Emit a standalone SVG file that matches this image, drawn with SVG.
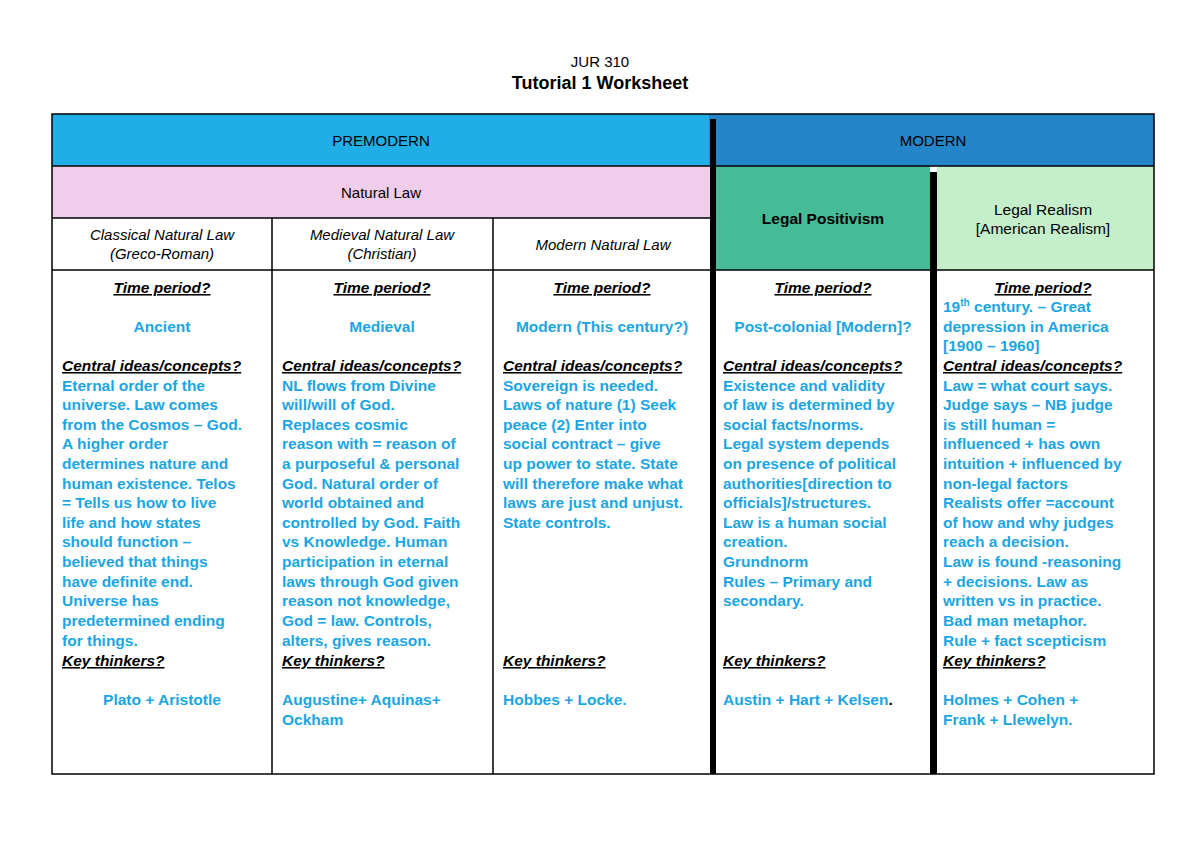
<svg xmlns="http://www.w3.org/2000/svg" width="1200" height="849" viewBox="0 0 1200 849">
<style>
text{font-family:"Liberation Sans",Arial,sans-serif;}
.h{font-size:15px;fill:#000}
.sub{font-size:15px;font-style:italic;fill:#000;text-anchor:middle}
.q{font-size:15.5px;font-weight:bold;font-style:italic;text-decoration:underline;fill:#000}
.b{font-size:15.5px;font-weight:bold;fill:#1ba6e3}
.c{text-anchor:middle}
.ln{stroke:#000;stroke-width:1.5;fill:none}
</style>
<rect width="1200" height="849" fill="#fff"/>
<text x="600" y="67" class="h c" font-size="15">JUR 310</text>
<text x="600" y="89" class="c" font-size="18" font-weight="bold">Tutorial 1 Worksheet</text>
<g id="headers">
<rect x="52" y="114" width="657" height="52" fill="#1faee6"/>
<rect x="709" y="114" width="445" height="52" fill="#2485c9"/>
<rect x="52" y="166" width="658" height="52" fill="#f0cdea"/>
<rect x="716" y="166" width="214" height="104" fill="#45bb97"/>
<rect x="937" y="166" width="217" height="104" fill="#c4efca"/>
<text x="381" y="146" class="h c">PREMODERN</text>
<text x="933" y="146" class="h c">MODERN</text>
<text x="381" y="198" class="h c" font-size="16">Natural Law</text>
<text x="162" y="240" class="sub">Classical Natural Law</text>
<text x="162" y="259" class="sub">(Greco-Roman)</text>
<text x="382" y="240" class="sub">Medieval Natural Law</text>
<text x="382" y="259" class="sub">(Christian)</text>
<text x="603" y="250" class="sub">Modern Natural Law</text>
<text x="823" y="224" class="c" font-size="15.5" font-weight="bold">Legal Positivism</text>
<text x="1043" y="215" class="c" font-size="15.5">Legal Realism</text>
<text x="1043" y="234" class="c" font-size="15.5">[American Realism]</text>
</g>
<g id="grid">
<rect x="52" y="114" width="1102" height="660" class="ln"/>
<line x1="52" y1="166" x2="1154" y2="166" class="ln"/>
<line x1="52" y1="218" x2="710" y2="218" class="ln"/>
<line x1="52" y1="270" x2="1154" y2="270" class="ln"/>
<line x1="272" y1="218" x2="272" y2="774" class="ln"/>
<line x1="493" y1="218" x2="493" y2="774" class="ln"/>
<rect x="710" y="119" width="6" height="655" fill="#000"/>
<rect x="930" y="172" width="7" height="602" fill="#000"/>
</g>
<g id="col1">
<text x="162" y="293" class="q c">Time period?</text>
<text x="162" y="332" class="b c">Ancient</text>
<text x="62" y="371" class="q">Central ideas/concepts?</text>
<text class="b"><tspan x="62" y="391">Eternal order of the</tspan><tspan x="62" y="410">universe. Law comes</tspan><tspan x="62" y="430">from the Cosmos – God.</tspan><tspan x="62" y="449">A higher order</tspan><tspan x="62" y="469">determines nature and</tspan><tspan x="62" y="489">human existence. Telos</tspan><tspan x="62" y="508">= Tells us how to live</tspan><tspan x="62" y="528">life and how states</tspan><tspan x="62" y="547">should function –</tspan><tspan x="62" y="567">believed that things</tspan><tspan x="62" y="587">have definite end.</tspan><tspan x="62" y="606">Universe has</tspan><tspan x="62" y="626">predetermined ending</tspan><tspan x="62" y="646">for things.</tspan></text>
<text x="62" y="666" class="q">Key thinkers?</text>
<text x="162" y="705" class="b c">Plato + Aristotle</text>
</g>
<g id="col2">
<text x="382" y="293" class="q c">Time period?</text>
<text x="382" y="332" class="b c">Medieval</text>
<text x="282" y="371" class="q">Central ideas/concepts?</text>
<text class="b"><tspan x="282" y="391">NL flows from Divine</tspan><tspan x="282" y="410">will/will of God.</tspan><tspan x="282" y="430">Replaces cosmic</tspan><tspan x="282" y="449">reason with = reason of</tspan><tspan x="282" y="469">a purposeful &amp; personal</tspan><tspan x="282" y="489">God. Natural order of</tspan><tspan x="282" y="508">world obtained and</tspan><tspan x="282" y="528">controlled by God. Faith</tspan><tspan x="282" y="547">vs Knowledge. Human</tspan><tspan x="282" y="567">participation in eternal</tspan><tspan x="282" y="587">laws through God given</tspan><tspan x="282" y="606">reason not knowledge,</tspan><tspan x="282" y="626">God = law. Controls,</tspan><tspan x="282" y="646">alters, gives reason.</tspan></text>
<text x="282" y="666" class="q">Key thinkers?</text>
<text class="b"><tspan x="282" y="705">Augustine+ Aquinas+</tspan><tspan x="282" y="725">Ockham</tspan></text>
</g>
<g id="col3">
<text x="602" y="293" class="q c">Time period?</text>
<text x="602" y="332" class="b c">Modern (This century?)</text>
<text x="503" y="371" class="q">Central ideas/concepts?</text>
<text class="b"><tspan x="503" y="391">Sovereign is needed.</tspan><tspan x="503" y="410">Laws of nature (1) Seek</tspan><tspan x="503" y="430">peace (2) Enter into</tspan><tspan x="503" y="449">social contract – give</tspan><tspan x="503" y="469">up power to state. State</tspan><tspan x="503" y="489">will therefore make what</tspan><tspan x="503" y="508">laws are just and unjust.</tspan><tspan x="503" y="528">State controls.</tspan></text>
<text x="503" y="666" class="q">Key thinkers?</text>
<text x="503" y="705" class="b">Hobbes + Locke.</text>
</g>
<g id="col4">
<text x="823" y="293" class="q c">Time period?</text>
<text x="823" y="332" class="b c">Post-colonial [Modern]?</text>
<text x="723" y="371" class="q">Central ideas/concepts?</text>
<text class="b"><tspan x="723" y="391">Existence and validity</tspan><tspan x="723" y="410">of law is determined by</tspan><tspan x="723" y="430">social facts/norms.</tspan><tspan x="723" y="449">Legal system depends</tspan><tspan x="723" y="469">on presence of political</tspan><tspan x="723" y="489">authorities[direction to</tspan><tspan x="723" y="508">officials]/structures.</tspan><tspan x="723" y="528">Law is a human social</tspan><tspan x="723" y="547">creation.</tspan><tspan x="723" y="567">Grundnorm</tspan><tspan x="723" y="587">Rules – Primary and</tspan><tspan x="723" y="606">secondary.</tspan></text>
<text x="723" y="666" class="q">Key thinkers?</text>
<text x="723" y="705" class="b">Austin + Hart + Kelsen<tspan fill="#000">.</tspan></text>
</g>
<g id="col5">
<text x="1043" y="293" class="q c">Time period?</text>
<text class="b"><tspan x="943" y="312">19<tspan font-size="10" dy="-6">th</tspan><tspan dy="6"> century. – Great</tspan></tspan><tspan x="943" y="332">depression in America</tspan><tspan x="943" y="351">[1900 – 1960]</tspan></text>
<text x="943" y="371" class="q">Central ideas/concepts?</text>
<text class="b"><tspan x="943" y="391">Law = what court says.</tspan><tspan x="943" y="410">Judge says – NB judge</tspan><tspan x="943" y="430">is still human =</tspan><tspan x="943" y="449">influenced + has own</tspan><tspan x="943" y="469">intuition + influenced by</tspan><tspan x="943" y="489">non-legal factors</tspan><tspan x="943" y="508">Realists offer =account</tspan><tspan x="943" y="528">of how and why judges</tspan><tspan x="943" y="547">reach a decision.</tspan><tspan x="943" y="567">Law is found -reasoning</tspan><tspan x="943" y="587">+ decisions. Law as</tspan><tspan x="943" y="606">written vs in practice.</tspan><tspan x="943" y="626">Bad man metaphor.</tspan><tspan x="943" y="646">Rule + fact scepticism</tspan></text>
<text x="943" y="666" class="q">Key thinkers?</text>
<text class="b"><tspan x="943" y="705">Holmes + Cohen +</tspan><tspan x="943" y="725">Frank + Llewelyn.</tspan></text>
</g>
</svg>
